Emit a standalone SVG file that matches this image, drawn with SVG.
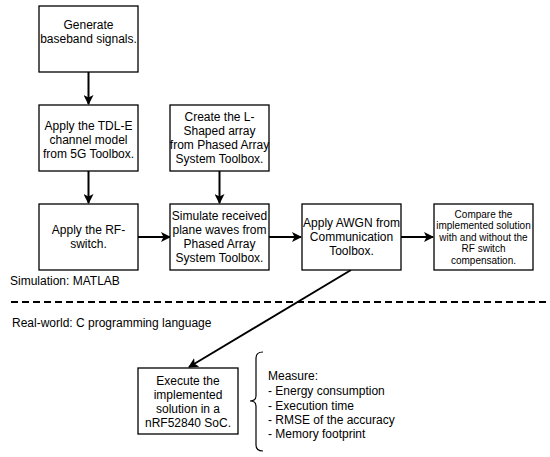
<svg xmlns="http://www.w3.org/2000/svg" width="550" height="457" viewBox="0 0 550 457">
<defs>
<style>
.box{fill:#fff;stroke:#000;stroke-width:1.3}
.t{font-family:"Liberation Sans",Arial,sans-serif;font-size:12px;fill:#000;text-anchor:middle}
.s{font-family:"Liberation Sans",Arial,sans-serif;font-size:10px;fill:#000;text-anchor:middle}
.l{font-family:"Liberation Sans",Arial,sans-serif;font-size:12px;fill:#000}
.c{fill:none;stroke:#000;stroke-width:2}
</style>
<marker id="ah" viewBox="0 0 10 10" refX="9" refY="5" markerWidth="5" markerHeight="5" orient="auto" markerUnits="strokeWidth">
<path d="M0,0 L10,5 L0,10 L2.5,5 Z" fill="#000"/>
</marker>
</defs>
<rect width="550" height="457" fill="#fff"/>
<g id="connectors">
<line class="c" x1="88.5" y1="72" x2="88.5" y2="104" marker-end="url(#ah)"/>
<line class="c" x1="88.5" y1="171" x2="88.5" y2="203" marker-end="url(#ah)"/>
<line class="c" x1="219.5" y1="171" x2="219.5" y2="203" marker-end="url(#ah)"/>
<line class="c" x1="138" y1="237" x2="170" y2="237" marker-end="url(#ah)"/>
<line class="c" x1="269" y1="237" x2="301" y2="237" marker-end="url(#ah)"/>
<line class="c" x1="401" y1="237" x2="433" y2="237" marker-end="url(#ah)"/>
<line class="c" x1="351" y1="270" x2="189" y2="367" marker-end="url(#ah)"/>
</g>
<line x1="11" y1="302" x2="546" y2="302" stroke="#000" stroke-width="2" stroke-dasharray="7 4"/>
<g id="n1"><rect class="box" x="39" y="6" width="99" height="66"/>
<text class="t" x="88.5" y="29">Generate</text><text class="t" x="88.5" y="43">baseband signals.</text></g>
<g id="n2"><rect class="box" x="39" y="105" width="99" height="66"/>
<text class="t" x="88.5" y="130">Apply the TDL-E</text><text class="t" x="88.5" y="144">channel model</text><text class="t" x="88.5" y="158">from 5G Toolbox.</text></g>
<g id="n3"><rect class="box" x="170" y="105" width="99" height="66"/>
<text class="t" x="219.5" y="121">Create the L-</text><text class="t" x="219.5" y="135">Shaped array</text><text class="t" x="219.5" y="149">from Phased Array</text><text class="t" x="219.5" y="163">System Toolbox.</text></g>
<g id="n4"><rect class="box" x="39" y="204" width="99" height="66"/>
<text class="t" x="88.5" y="234">Apply the RF-</text><text class="t" x="88.5" y="248">switch.</text></g>
<g id="n5"><rect class="box" x="170" y="204" width="99" height="66"/>
<text class="t" x="219.5" y="220">Simulate received</text><text class="t" x="219.5" y="234">plane waves from</text><text class="t" x="219.5" y="248">Phased Array</text><text class="t" x="219.5" y="262">System Toolbox.</text></g>
<g id="n6"><rect class="box" x="302" y="204" width="99" height="66"/>
<text class="t" x="351.5" y="227">Apply AWGN from</text><text class="t" x="351.5" y="241">Communication</text><text class="t" x="351.5" y="255">Toolbox.</text></g>
<g id="n7"><rect class="box" x="434" y="204" width="99" height="66"/>
<text class="s" x="483.5" y="217.5">Compare the</text><text class="s" x="483.5" y="229">implemented solution</text><text class="s" x="483.5" y="240.5">with and without the</text><text class="s" x="483.5" y="252">RF switch</text><text class="s" x="483.5" y="263.5">compensation.</text></g>
<g id="n8"><rect class="box" x="138" y="368" width="100" height="66"/>
<text class="t" x="188" y="385">Execute the</text><text class="t" x="188" y="399">implemented</text><text class="t" x="188" y="413">solution in a</text><text class="t" x="188" y="427">nRF52840 SoC.</text></g>
<g id="labels">
<text class="l" x="10" y="285">Simulation: MATLAB</text>
<text class="l" x="12" y="327">Real-world: C programming language</text>
</g>
<g id="measure">
<path d="M263,352 Q256,352 256,358 L256,396 Q256,401 250,401 Q256,401 256,406 L256,445 Q256,451 263,451" fill="none" stroke="#000" stroke-width="1.2"/>
<text class="l" x="268" y="380">Measure:</text>
<text class="l" x="268" y="395">- Energy consumption</text>
<text class="l" x="268" y="410">- Execution time</text>
<text class="l" x="268" y="424">- RMSE of the accuracy</text>
<text class="l" x="268" y="438">- Memory footprint</text>
</g>
</svg>
